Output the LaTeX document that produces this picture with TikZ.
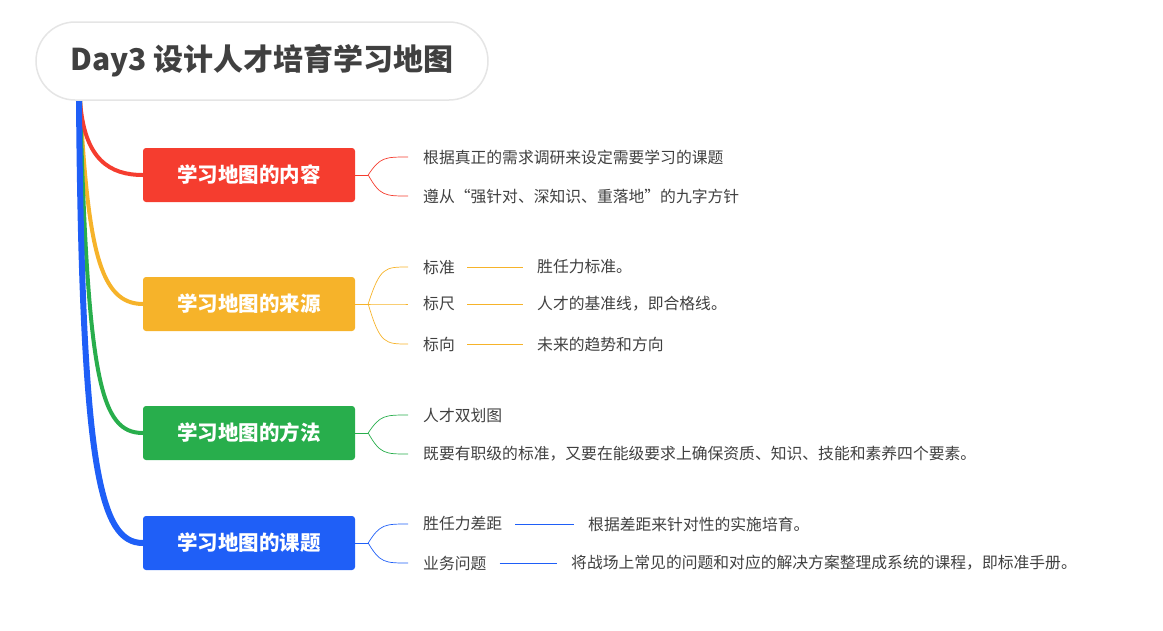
\documentclass[tikz,border=0pt]{standalone}
\usepackage{fontspec}
\setmainfont{Noto Sans CJK SC}
\begin{document}
\begin{tikzpicture}[x=1pt,y=-1pt,
  bbox/.style={fill=#1,rounded corners=3pt,minimum width=212pt,minimum height=54pt,text=white,font=\fontsize{20.5}{24}\selectfont\bfseries,inner sep=0pt},
  leaf/.style={anchor=west,text=black!75,font=\fontsize{15.8}{18}\selectfont,inner sep=0pt},
  tr/.style={draw=#1,line width=4pt,line cap=round},
  lk/.style={draw=#1,line width=0.7pt}]
\definecolor{cr}{HTML}{F53D2F}
\definecolor{cy}{HTML}{F6B32A}
\definecolor{cg}{HTML}{28AE4C}
\definecolor{cb}{HTML}{1F5FF7}
\useasboundingbox (0,0) rectangle (1163,630);
% trunks
\draw[tr=cy] (80,100) .. controls (88,250) and (100,304) .. (143,304);
\draw[tr=cg] (80,100) .. controls (88,380) and (100,433) .. (143,433);
\draw[tr=cr] (80,100) .. controls (84,160) and (110,175) .. (143,175);
\draw[tr=cb,line width=6pt] (79,100) .. controls (82,470) and (100,543) .. (143,543);
% root
\node[draw=black!10,line width=1.5pt,fill=white,rounded corners=39pt,minimum width=452pt,minimum height=78pt,font=\fontsize{30}{33}\selectfont\bfseries,text=black!75] (root) at (262,61) {Day3 设计人才培育学习地图};
% branches
\node[bbox=cr] (b1) at (249,175) {学习地图的内容};
\node[bbox=cy] (b2) at (249,304) {学习地图的来源};
\node[bbox=cg] (b3) at (249,433) {学习地图的方法};
\node[bbox=cb] (b4) at (249,543) {学习地图的课题};
% leaves
\node[leaf] (l11) at (423,157) {根据真正的需求调研来设定需要学习的课题};
\node[leaf] (l12) at (423,196) {遵从“强针对、深知识、重落地”的九字方针};
\node[leaf] (l21) at (423,267) {标准};
\node[leaf] (l22) at (423,304) {标尺};
\node[leaf] (l23) at (423,344) {标向};
\node[leaf] (m21) at (537,267) {胜任力标准。};
\node[leaf] (m22) at (537,304) {人才的基准线，即合格线。};
\node[leaf] (m23) at (537,344) {未来的趋势和方向};
\node[leaf] (l31) at (423,415) {人才双划图};
\node[leaf] (l32) at (423,454) {既要有职级的标准，又要在能级要求上确保资质、知识、技能和素养四个要素。};
\node[leaf] (l41) at (423,524) {胜任力差距};
\node[leaf] (l42) at (423,563) {业务问题};
\node[leaf] (m41) at (588,524) {根据差距来针对性的实施培育。};
\node[leaf] (m42) at (571,563) {将战场上常见的问题和对应的解决方案整理成系统的课程，即标准手册。};
% forks
\foreach \b/\c/\ys in {b1/cr/{157,196},b2/cy/{267,304,344},b3/cg/{415,454},b4/cb/{524,563}}{
  \coordinate (f) at ([xshift=13pt]\b.east);
  \draw[lk=\c] (\b.east) -- (f);
  \foreach \y in \ys {\draw[lk=\c] (f) .. controls (380,\y) and (385,\y) .. (408,\y);}
}
\draw[lk=cy,line width=0.5pt] ([xshift=12pt]l21.east) -- ([xshift=-14pt]m21.west);
\draw[lk=cy,line width=0.5pt] ([xshift=12pt]l22.east) -- ([xshift=-14pt]m22.west);
\draw[lk=cy] ([xshift=12pt]l23.east) -- ([xshift=-14pt]m23.west);
\draw[lk=cb] ([xshift=13pt]l41.east) -- ([xshift=-14pt]m41.west);
\draw[lk=cb] ([xshift=13pt]l42.east) -- ([xshift=-14pt]m42.west);
\end{tikzpicture}
\end{document}
